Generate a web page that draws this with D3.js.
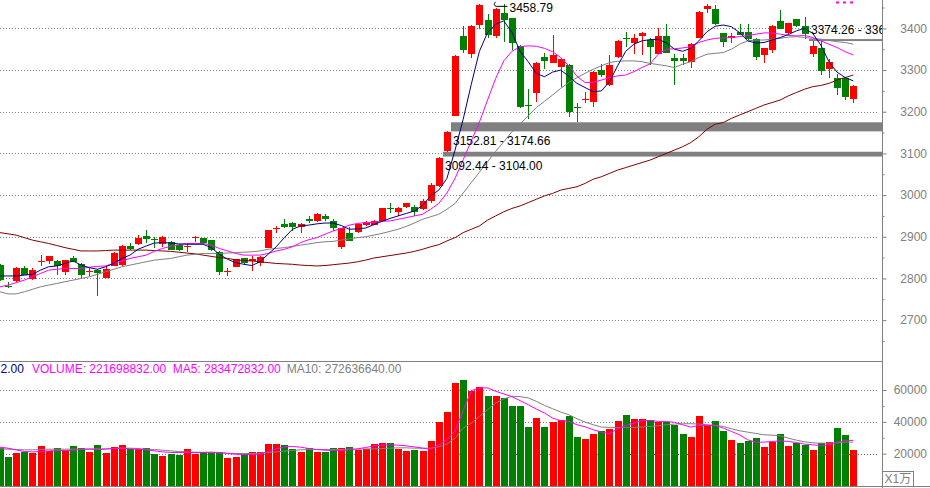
<!DOCTYPE html>
<html>
<head>
<meta charset="utf-8">
<script src="https://cdn.jsdelivr.net/npm/d3@7"></script>
<style>
  body { margin: 0; background: #fff; }
  svg { display: block; font-family: "Liberation Sans", Arial, "Noto Sans CJK SC", sans-serif; }
</style>
</head>
<body>
<script>
// daily candles, oldest first
const openPrices = [2832,2782,2794,2826,2798,2839,2842,2842,2816,2850,
  2834,2817,2820,2800,2831,2832,2878,2882,2902,2894,
  2884,2888,2880,2874,2898,2896,2892,2864,2818,2828,
  2848,2842,2838,2874,2918,2930,2934,2924,2942,2937,
  2950,2938,2874,2908,2910,2928,2929,2938,2970,2961,
  2970,2972,2966,2986,3022,3105,3190,3382,3340,3408,
  3420,3382,3436,3424,3358,3217,3246,3332,3318,3308,
  3312,3212,3230,3224,3300,3264,3332,3378,3366,3383,
  3372,3340,3382,3328,3328,3318,3378,3446,3446,3388,
  3378,3392,3392,3374,3336,3348,3418,3388,3422,3406,
  3340,3352,3304,3282,3282,3230];
const highPrices = [2834,2791,2828,2829,2824,2856,2855,2844,2845,2854,
  2836,2826,2822,2830,2863,2880,2884,2904,2916,2900,
  2902,2889,2881,2884,2902,2898,2893,2866,2824,2847,
  2850,2854,2854,2917,2926,2942,2936,2932,2950,2956,
  2954,2942,2921,2924,2932,2938,2940,2970,2980,2972,
  2982,2977,2990,3028,3092.44,3152.81,3336,3406,3407,3458,
  3434,3450,3458.79,3426,3360,3254,3320,3340,3384,3328,
  3314,3222,3248,3298,3314,3336,3372,3392,3386,3392,
  3378,3400,3410,3338,3338,3364,3442,3458,3456,3390,
  3388,3410,3410,3376,3354,3408,3444,3414,3423,3428,
  3369.52,3370,3326,3290,3284,3263];
const lowPrices = [2794,2776,2791,2808,2796,2830,2834,2808,2808,2839,
  2802,2806,2758,2800,2830,2831,2868,2881,2886,2874,
  2876,2868,2866,2864,2888,2883,2866,2808,2806,2827,
  2832,2818,2830,2873,2908,2922,2914,2910,2934,2936,
  2937,2913,2870,2889,2908,2926,2928,2936,2958,2950,
  2968,2950,2964,2982,3020,3104.00,3189,3340,3330,3398,
  3376,3378,3368,3348,3210,3182,3224,3302,3316,3260,
  3188,3176,3220,3212,3284,3262,3328,3356,3338,3336,
  3312,3338,3340,3264,3312,3304,3376,3436,3408,3356,
  3366,3383,3373,3324,3316,3342,3398,3386,3404,3374.26,
  3332,3288,3280,3240,3228,3222];
const closePrices = [2796,2781,2826,2810,2820,2841,2854,2830,2844,2840,
  2808,2819,2812,2822,2862,2878,2872,2896,2895,2893,
  2900,2870,2868,2877,2899,2884,2868,2816,2819,2846,
  2836,2846,2852,2916,2921,2924,2924,2930,2938,2954,
  2944,2921,2920,2890,2930,2936,2938,2968,2968,2970,
  2980,2960,2985,3025,3090,3151,3334,3348,3406,3456,
  3384,3446,3420,3364,3212,3214,3318,3322,3336,3326,
  3200,3209,3231,3296,3288,3312,3370,3377,3378,3390,
  3356,3382,3342,3322,3322,3362,3440,3454,3410,3366,
  3382,3386,3376,3332,3352,3406,3400,3412,3406,3386,
  3358,3296,3320,3258,3236,3262];

// volume in units of 10 000 shares
const volumes = [23450,18190,20715,21135,20295,24920,21765,23660,21555,24920,
  23660,21345,25550,20505,24290,25550,23240,22820,23450,19870,
  18610,19870,19450,23030,20085,20925,20715,20925,17350,17980,
  19665,21135,21135,26180,26180,25550,23030,21345,23450,21345,
  21345,23660,23450,24290,22605,22820,26180,26810,26810,23030,
  21765,22400,21975,27655,39640,46370,64670,66140,59200,62140,
  56045,56045,54780,49735,49735,36490,42165,36490,39640,40900,
  43430,30180,29340,32490,34385,35645,40690,44480,41955,41955,
  41110,39640,39850,38170,32490,30600,43850,38170,40480,33960,
  28705,26810,28075,29970,24290,27235,32490,25130,26600,25550,
  22400,26600,27445,35855,31440,22170];

// moving averages
const ma5 = [2806,2806,2806,2808,2810,2820,2828,2830,2836,2842,
  2832,2826,2822,2828,2836,2848,2856,2870,2878,2885,
  2886,2885,2883,2882,2882,2882,2874,2858,2846,2838,
  2834,2831,2840,2858,2876,2898,2918,2926,2928,2931,
  2933,2933,2927,2918,2919,2921,2929,2937,2944,2950,
  2956,2962,2975,2998,3012,3040,3108,3182,3266,3345,
  3390,3410,3418,3390,3345,3320,3292,3284,3295,3300,
  3285,3268,3258,3248,3250,3272,3310,3345,3362,3370,
  3373,3374,3365,3350,3345,3352,3370,3392,3405,3408,
  3404,3390,3370,3365,3366,3372,3378,3385,3394,3400,
  3388,3360,3320,3295,3282,3274];
const ma10 = [2780,2784,2790,2796,2804,2812,2820,2822,2824,2824,
  2824,2827,2829,2830,2836,2842,2848,2852,2856,2865,
  2872,2877,2881,2884,2884,2884,2880,2872,2866,2860,
  2856,2856,2856,2860,2866,2870,2876,2886,2893,2898,
  2906,2914,2920,2928,2932,2934,2935,2937,2938,2942,
  2946,2950,2954,2966,2980,3005,3040,3085,3130,3175,
  3228,3280,3322,3345,3356,3358,3357,3352,3344,3330,
  3310,3285,3270,3270,3276,3282,3286,3288,3296,3306,
  3315,3338,3350,3351,3353,3356,3366,3372,3376,3377,
  3378,3380,3383,3386,3389,3389,3386,3383,3382,3383,
  3378,3370,3362,3354,3344,3336];
const ma20 = [2768,2763,2763,2768,2774,2780,2784,2788,2792,2796,
  2800,2804,2810,2816,2822,2828,2832,2836,2840,2844,
  2846,2848,2852,2856,2858,2860,2860,2860,2861,2862,
  2863,2864,2866,2870,2872,2874,2877,2880,2883,2886,
  2888,2889,2892,2895,2898,2900,2904,2908,2913,2918,
  2925,2933,2942,2948,2954,2966,2980,3005,3030,3055,
  3080,3105,3128,3152,3170,3190,3210,3225,3240,3256,
  3270,3282,3292,3302,3310,3318,3321,3322,3322,3320,
  3316,3313,3310,3306,3314,3320,3330,3338,3340,3342,
  3350,3362,3370,3372,3372,3374,3376,3379,3380,3378,
  3376,3374,3371,3368,3366,3362];
const ma60 = [2910,2907,2904,2898,2892,2888,2884,2879,2874,2870,
  2866,2866,2866,2867,2868,2868,2868,2868,2868,2867,
  2866,2865,2863,2861,2859,2856,2853,2850,2848,2845,
  2843,2842,2840,2838,2836,2835,2834,2832,2831,2830,
  2831,2833,2835,2837,2840,2844,2849,2852,2855,2858,
  2861,2865,2870,2876,2881,2890,2898,2910,2918,2926,
  2940,2950,2960,2968,2974,2982,2990,2998,3004,3012,
  3016,3020,3028,3038,3044,3052,3060,3066,3072,3078,
  3084,3092,3100,3108,3116,3126,3140,3158,3170,3174,
  3184,3192,3200,3208,3216,3222,3228,3238,3246,3254,
  3260,3263,3268,3276,3282,3288];
const volMa5 = [24080,23450,22400,21345,21135,21345,21765,21975,21975,22190,
  22610,22820,22610,22820,23240,23450,23030,22820,22400,21765,
  21135,20715,20715,20715,20715,20715,20925,20715,20085,19660,
  19450,19450,19660,21345,23030,24290,24500,24080,23240,22610,
  22190,21975,21975,22400,23030,23870,24920,25340,25550,25340,
  24920,24290,23450,22820,25550,28700,34400,47000,59620,61300,
  61300,59200,57520,55830,53310,50780,48050,45530,42370,40690,
  40270,38170,36910,35020,33540,32490,35650,37750,39220,40690,
  40900,40270,40270,39640,38170,36700,37750,37750,37750,36060,
  33960,31860,28700,27230,27230,27650,28070,27650,27020,25970,
  25550,25130,25550,27230,28280,28347];
const volMa10 = [23030,22820,22610,22400,22400,22610,22820,22820,22820,22820,
  22820,23030,23030,23030,23240,23450,23450,23240,22820,22610,
  22190,21765,21345,21135,20925,20925,20715,20505,20295,20085,
  20085,20085,20295,20715,21135,21555,21975,22400,22610,22610,
  22610,22610,22610,22820,22820,23030,23030,23240,23450,23660,
  23660,23450,23450,23450,24290,25970,29760,36060,39220,43430,
  47630,51840,54360,56040,55830,55000,52880,50350,48240,46140,
  44480,41950,39850,38170,36700,36490,36490,36490,36490,36700,
  37120,37540,38170,38590,38800,38800,38590,38170,37750,37120,
  35650,34390,33540,32700,31860,31650,31230,29760,28490,27440,
  26810,26600,26600,26810,27230,27264];

// unfilled price gaps: candle the gap opens after, lower and upper edge
const gapAfter = [54, 55, 99];
const gapLow = [3092.44, 3152.81, 3369.52];
const gapHigh = [3104.00, 3174.66, 3374.26];
const gapLabels = ['3092.44 - 3104.00', '3152.81 - 3174.66', '3374.26 - 3369.52'];

const priceTicks = [2700, 2800, 2900, 3000, 3100, 3200, 3300, 3400];
const priceMinorTicks = [2650, 2750, 2850, 2950, 3050, 3150, 3250, 3350, 3450];
const volumeTicks = [20000, 40000, 60000];
const volumeMinorTicks = [30000, 50000];

const highIndex = 62;
const highLabel = '3458.79';
const legendItems = [
  { text: 'VOLUME: 221698832.00', color: '#ff00ff' },
  { text: 'MA5: 283472832.00', color: '#ff00ff' },
  { text: 'MA10: 272636640.00', color: '#808080' }
];

const width = 930;
const height = 488;
const axisX = 882.5;
const panelSplit = 361;
const bottomLine = 486.5;
const UP = '#ff0000';
const DOWN = '#008000';
const GREY = '#808080';

const svg = d3.select('body')
  .append('svg')
  .attr('width', width)
  .attr('height', height);

const x = d3.scaleLinear().domain([0, 105]).range([-0.1, 853.3]);
const yPrice = d3.scaleLinear().domain([2602, 3468]).range([panelSplit, 0]);
const yVol = d3.scaleLinear().domain([0, 60000]).range([485.5, 390]);

const candles = openPrices.map((o, i) => ({
  i, o, h: highPrices[i], l: lowPrices[i], c: closePrices[i], v: volumes[i]
}));
const colorOf = d => d.c >= d.o ? UP : DOWN;
const left = d => Math.round(x(d.i)) - 3;

svg.append('defs').append('clipPath')
  .attr('id', 'price-clip')
  .append('rect')
  .attr('x', 0).attr('y', 0)
  .attr('width', axisX).attr('height', panelSplit);

// grid
svg.append('g')
  .selectAll('line')
  .data(priceTicks)
  .enter()
  .append('line')
  .attr('x1', 0).attr('x2', 879)
  .attr('y1', d => Math.round(yPrice(d)) + 0.5)
  .attr('y2', d => Math.round(yPrice(d)) + 0.5)
  .attr('stroke', GREY)
  .attr('stroke-dasharray', '1,2');

svg.append('g')
  .selectAll('line')
  .data(volumeTicks)
  .enter()
  .append('line')
  .attr('x1', 0).attr('x2', 879)
  .attr('y1', d => Math.round(yVol(d)) + 0.5)
  .attr('y2', d => Math.round(yVol(d)) + 0.5)
  .attr('stroke', GREY)
  .attr('stroke-dasharray', '1,2');

const price = svg.append('g').attr('clip-path', 'url(#price-clip)');

// gap bands
price.selectAll('.gap')
  .data(gapAfter)
  .enter()
  .append('rect')
  .attr('class', 'gap')
  .attr('x', d => Math.round(x(d)) + 4)
  .attr('y', (d, k) => yPrice(gapHigh[k]))
  .attr('width', d => axisX - (Math.round(x(d)) + 4))
  .attr('height', (d, k) => yPrice(gapLow[k]) - yPrice(gapHigh[k]))
  .attr('fill', GREY);

// candles
price.selectAll('.wick')
  .data(candles)
  .enter()
  .append('line')
  .attr('class', 'wick')
  .attr('x1', d => left(d) + 3.5)
  .attr('x2', d => left(d) + 3.5)
  .attr('y1', d => yPrice(d.h))
  .attr('y2', d => yPrice(d.l))
  .attr('stroke', colorOf)
  .attr('shape-rendering', 'crispEdges');

price.selectAll('.body')
  .data(candles)
  .enter()
  .append('rect')
  .attr('class', 'body')
  .attr('x', left)
  .attr('width', 7)
  .attr('y', d => Math.round(yPrice(Math.max(d.o, d.c))))
  .attr('height', d => Math.max(1, Math.round(Math.abs(yPrice(d.o) - yPrice(d.c)))))
  .attr('fill', colorOf)
  .attr('shape-rendering', 'crispEdges');

// moving averages
const priceLine = d3.line().x((d, i) => x(i)).y(d => yPrice(d));
[[ma60, '#800000'], [ma20, GREY], [ma10, '#ff00ff'], [ma5, '#000080']].forEach(([series, color]) => {
  price.append('path')
    .datum(series)
    .attr('d', priceLine)
    .attr('fill', 'none')
    .attr('stroke', color)
    .attr('stroke-width', 1);
});

// gap labels
price.selectAll('.gap-label')
  .data(gapAfter)
  .enter()
  .append('text')
  .attr('class', 'gap-label')
  .attr('x', d => Math.round(x(d)) + 6)
  .attr('y', (d, k) => k < 2 ? yPrice(gapLow[k]) + 9.5 : yPrice(gapHigh[k]) - 9)
  .attr('dy', '0.35em')
  .attr('font-size', 12)
  .attr('fill', '#000')
  .text((d, k) => gapLabels[k]);

// highest price marker
const hx = Math.round(x(highIndex)) + 0.5;
const hy = yPrice(highPrices[highIndex]) + 2.5;
price.append('path')
  .attr('d', `M${hx - 9},${hy - 4.5} Q${hx - 12},${hy - 1} ${hx - 8},${hy} L${hx + 3},${hy}`)
  .attr('fill', 'none')
  .attr('stroke', '#000');
price.append('text')
  .attr('x', hx + 5)
  .attr('y', hy + 1)
  .attr('dy', '0.35em')
  .attr('font-size', 12)
  .attr('fill', '#000')
  .text(highLabel);

// stray legend marks at top right
svg.append('line')
  .attr('x1', 836).attr('x2', 854)
  .attr('y1', 2.5).attr('y2', 2.5)
  .attr('stroke', '#ff00ff')
  .attr('stroke-width', 2)
  .attr('stroke-dasharray', '3,4');

// volume bars
svg.append('g')
  .selectAll('rect')
  .data(candles)
  .enter()
  .append('rect')
  .attr('x', left)
  .attr('width', 7)
  .attr('y', d => Math.round(yVol(d.v)))
  .attr('height', d => 486 - Math.round(yVol(d.v)))
  .attr('fill', colorOf)
  .attr('shape-rendering', 'crispEdges');

// the 20000 grid line shows through the later bars in the original
svg.append('line')
  .attr('x1', Math.round(x(77.5))).attr('x2', 879)
  .attr('y1', Math.round(yVol(volumeTicks[0])) + 0.5)
  .attr('y2', Math.round(yVol(volumeTicks[0])) + 0.5)
  .attr('stroke', '#606060')
  .attr('stroke-dasharray', '1,2');

const volLine = d3.line().x((d, i) => x(i)).y(d => yVol(d));
[[volMa10, GREY], [volMa5, '#ff00ff']].forEach(([series, color]) => {
  svg.append('path')
    .datum(series)
    .attr('d', volLine)
    .attr('fill', 'none')
    .attr('stroke', color)
    .attr('stroke-width', 1);
});

// frame lines
svg.append('line')
  .attr('x1', 0).attr('x2', axisX)
  .attr('y1', panelSplit + 0.5).attr('y2', panelSplit + 0.5)
  .attr('stroke', GREY);
svg.append('line')
  .attr('x1', 0).attr('x2', width)
  .attr('y1', bottomLine).attr('y2', bottomLine)
  .attr('stroke', GREY);
svg.append('line')
  .attr('x1', axisX).attr('x2', axisX)
  .attr('y1', 0).attr('y2', height)
  .attr('stroke', GREY);

// axes
function styleAxis(g) {
  g.select('.domain').remove();
  g.selectAll('line').attr('stroke', GREY);
  g.selectAll('text')
    .attr('x', 44.5)
    .attr('text-anchor', 'end')
    .attr('fill', GREY)
    .attr('font-size', 12)
    .attr('font-family', '"Liberation Sans", Arial, sans-serif');
}

svg.append('g')
  .attr('transform', `translate(${axisX},0)`)
  .call(d3.axisRight(yPrice).tickValues(priceTicks).tickSize(4).tickFormat(d3.format('d')))
  .call(styleAxis);
svg.append('g')
  .attr('transform', `translate(${axisX},0)`)
  .call(d3.axisRight(yPrice).tickValues(priceMinorTicks).tickSize(2).tickFormat(''))
  .call(styleAxis);
svg.append('g')
  .attr('transform', `translate(${axisX},0)`)
  .call(d3.axisRight(yVol).tickValues(volumeTicks).tickSize(4).tickFormat(d3.format('d')))
  .call(styleAxis);
svg.append('g')
  .attr('transform', `translate(${axisX},0)`)
  .call(d3.axisRight(yVol).tickValues(volumeMinorTicks).tickSize(2).tickFormat(''))
  .call(styleAxis);

// unit box
svg.append('rect')
  .attr('x', axisX).attr('y', 471.5)
  .attr('width', 31).attr('height', 15)
  .attr('fill', 'none')
  .attr('stroke', GREY);
svg.append('text')
  .attr('x', axisX + 2)
  .attr('y', 479)
  .attr('dy', '0.35em')
  .attr('font-size', 12)
  .attr('fill', GREY)
  .text('X1万');

// volume legend
svg.append('text')
  .attr('x', 0.5)
  .attr('y', 369)
  .attr('dy', '0.35em')
  .attr('font-size', 12)
  .attr('fill', '#000080')
  .text('2.00');

const legendX = [32, 172.7, 286.7];
svg.append('g')
  .selectAll('text')
  .data(legendItems)
  .enter()
  .append('text')
  .attr('x', (d, k) => legendX[k])
  .attr('y', 369)
  .attr('dy', '0.35em')
  .attr('font-size', 12)
  .attr('fill', d => d.color)
  .text(d => d.text);
</script>
</body>
</html>
